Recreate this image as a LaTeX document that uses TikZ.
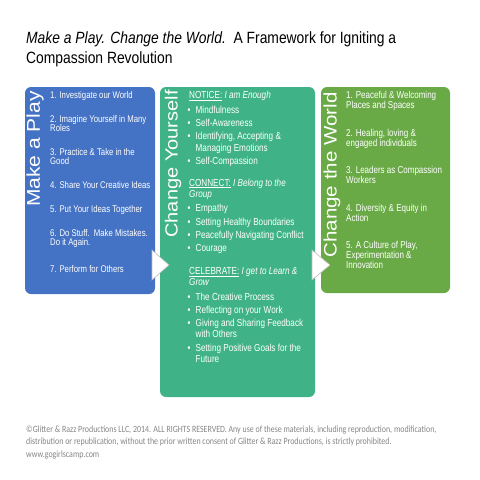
\documentclass[tikz,border=0pt]{standalone}
\usepackage{fontspec}
\setmainfont{Liberation Sans}
\newfontfamily\narrowfont[FakeStretch=0.8]{Liberation Sans}
\newfontfamily\headfont[FakeStretch=0.85]{Liberation Sans}
\newfontfamily\notefont[FakeStretch=0.83]{Carlito}
\usetikzlibrary{positioning}
\definecolor{playblue}{HTML}{4472C4}
\definecolor{changeteal}{HTML}{3FB387}
\definecolor{worldgreen}{HTML}{6AAA46}
\definecolor{notegray}{HTML}{858585}
\tikzset{
  % column box style
  colbox/.style={
    rounded corners=6pt, inner sep=0pt
  },
  % white arrow between columns
  tarr/.style={
    fill=white, draw=black!25, line width=0.6pt
  },
}
\newcommand{\bl}{\makebox[8pt][l]{\textbullet}}
\newcommand{\rows}[1]{\parbox[t]{140pt}{\lineskiplimit=-20pt\strut#1\strut}}

\begin{document}
\begin{tikzpicture}
          [x=1pt, y=-1pt
          , lst/.style={text=white, inner sep=0pt, anchor=north west}
          , ptxt/.style={lst, font=\narrowfont\fontsize{9.7}{8.6}\selectfont}
          , ctxt/.style={lst, font=\narrowfont\fontsize{10.2}{11.2}\selectfont}
          , wtxt/.style={lst, font=\narrowfont\fontsize{10}{10}\selectfont}
          , vtxt/.style={text=white, rotate=90, yscale=0.88, inner sep=0pt}
          ]
          \useasboundingbox (0,0) rectangle (480,480);

          \node (title) [anchor=north west
                        , inner sep=0pt
                        , align=left
                        , font=\headfont\fontsize{16.3}{20}\selectfont
                        ]
                        at (26, 31.5)
                        {\textit{Make a Play. Change the World.}\ \ A Framework for Igniting a\\
                         Compassion Revolution};

          % the three columns
          \node (play) [colbox, fill=playblue
                       , minimum width=130pt, minimum height=207pt
                       ] at (90, 190.5) {};
          \node (change) [colbox, fill=changeteal
                         , minimum width=155pt, minimum height=310pt
                         ] at (237.5, 242) {};
          \node (world) [colbox, fill=worldgreen
                        , minimum width=129pt, minimum height=206pt
                        ] at (385.5, 190) {};

          \filldraw[tarr] (152,250) -- (169,265) -- (152,280) -- cycle;
          \filldraw[tarr] (312,250) -- (330,265) -- (312,280) -- cycle;

          \node (ptitle) [vtxt, font=\fontsize{21}{24}\selectfont] at (35, 149) {Make a Play};
          \node (ctitle) [vtxt, font=\fontsize{20}{24}\selectfont] at (173, 164) {Change Yourself};
          \node (wtitle) [vtxt, font=\fontsize{20.5}{24}\selectfont] at (332, 175) {Change the World};

          % Make a Play
          \node (p1) [ptxt] at (50, 91.3) {\rows{1. Investigate our World}};
          \node (p2) [ptxt, below right=14.3pt and 0pt of p1.south west]
                     {\rows{2. Imagine Yourself in Many\\Roles}};
          \node (p3) [ptxt, below right=14.3pt and 0pt of p2.south west]
                     {\rows{3. Practice \& Take in the\\Good}};
          \node (p4) [ptxt, below right=14.3pt and 0pt of p3.south west]
                     {\rows{4. Share Your Creative Ideas}};
          \node (p5) [ptxt, below right=13.5pt and 0pt of p4.south west]
                     {\rows{5. Put Your Ideas Together}};
          \node (p6) [ptxt, below right=14.3pt and 0pt of p5.south west]
                     {\rows{6. Do Stuff.\ \ Make Mistakes.\\Do it Again.}};
          \node (p7) [ptxt, below right=17pt and 0pt of p6.south west]
                     {\rows{7. Perform for Others}};

          % Change Yourself
          \node (n0) [ctxt] at (189, 90.7) {\rows{\underline{NOTICE:} \textit{I am Enough}}};
          \node (n1) [ctxt, below right=3pt and -1.5pt of n0.south west] {\rows{\bl Mindfulness}};
          \node (n2) [ctxt, below right=1.7pt and 0pt of n1.south west] {\rows{\bl Self-Awareness}};
          \node (n3) [ctxt, below right=1.7pt and 0pt of n2.south west]
                     {\rows{\bl Identifying, Accepting \&\\\hspace*{8pt}Managing Emotions}};
          \node (n4) [ctxt, below right=1.7pt and 0pt of n3.south west] {\rows{\bl Self-Compassion}};

          \node (k0) [ctxt, below right=10pt and 1.5pt of n4.south west]
                     {\rows{\underline{CONNECT:} \textit{I Belong to the}\\\textit{Group}}};
          \node (k1) [ctxt, below right=3pt and -1.5pt of k0.south west] {\rows{\bl Empathy}};
          \node (k2) [ctxt, below right=1.7pt and 0pt of k1.south west] {\rows{\bl Setting Healthy Boundaries}};
          \node (k3) [ctxt, below right=1.7pt and 0pt of k2.south west] {\rows{\bl Peacefully Navigating Conflict}};
          \node (k4) [ctxt, below right=1.7pt and 0pt of k3.south west] {\rows{\bl Courage}};

          \node (g0) [ctxt, below right=11pt and 1.5pt of k4.south west]
                     {\rows{\underline{CELEBRATE:} \textit{I get to Learn \&}\\\textit{Grow}}};
          \node (g1) [ctxt, below right=3pt and -1.5pt of g0.south west] {\rows{\bl The Creative Process}};
          \node (g2) [ctxt, below right=1.7pt and 0pt of g1.south west] {\rows{\bl Reflecting on your Work}};
          \node (g3) [ctxt, below right=1.7pt and 0pt of g2.south west]
                     {\rows{\bl Giving and Sharing Feedback\\\hspace*{8pt}with Others}};
          \node (g4) [ctxt, below right=1.7pt and 0pt of g3.south west]
                     {\rows{\bl Setting Positive Goals for the\\\hspace*{8pt}Future}};

          % Change the World
          \node (w1) [wtxt] at (346, 91.4) {\rows{1. Peaceful \& Welcoming\\Places and Spaces}};
          \node (w2) [wtxt, below right=16.8pt and 0pt of w1.south west]
                     {\rows{2. Healing, loving \&\\engaged individuals}};
          \node (w3) [wtxt, below right=16.8pt and 0pt of w2.south west]
                     {\rows{3. Leaders as Compassion\\Workers}};
          \node (w4) [wtxt, below right=16.8pt and 0pt of w3.south west]
                     {\rows{4. Diversity \& Equity in\\Action}};
          \node (w5) [wtxt, below right=16.8pt and 0pt of w4.south west]
                     {\rows{5. A Culture of Play,\\Experimentation \&\\Innovation}};

          \node (note) [anchor=north west
                       , inner sep=0pt
                       , align=left
                       , text=notegray
                       , font=\notefont\fontsize{9.55}{12}\selectfont
                       ]
                       at (26, 425.5)
                       {©Glitter \& Razz Productions LLC, 2014. ALL RIGHTS RESERVED. Any use of these materials, including reproduction, modification,\\
                        distribution or republication, without the prior written consent of Glitter \& Razz Productions, is strictly prohibited.\\[1pt]
                        www.gogirlscamp.com};
      \end{tikzpicture}
\end{document}
